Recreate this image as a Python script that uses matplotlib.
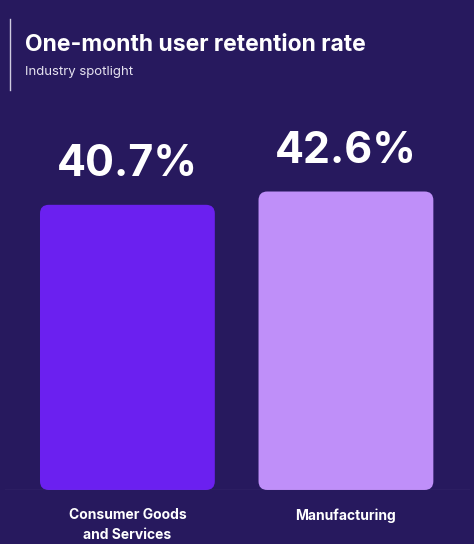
import matplotlib.pyplot as plt
from matplotlib.patches import FancyBboxPatch

plt.rcParams["font.family"] = ["Inter", "DejaVu Sans"]

BG = "#27195e"
categories = ["Consumer Goods\nand Services", "Manufacturing"]
values = [40.7, 42.6]
labels = ["40.7%", "42.6%"]
colors = ["#6b20f0", "#bf8ff9"]

fig = plt.figure(figsize=(4.74, 5.44), dpi=100, facecolor=BG)
ax = fig.add_axes([0, 0.0993, 1, 0.662])
ax.set_facecolor(BG)
ax.set_xlim(-0.583, 1.586)
ax.set_ylim(0, 51.4)
for s in ax.spines.values():
    s.set_visible(False)
ax.set_xticks([])
ax.set_yticks([])

w = 0.8
for i, (v, c, lab) in enumerate(zip(values, colors, labels)):
    p = FancyBboxPatch((i - w / 2, 0), w, v, boxstyle="round,pad=0,rounding_size=0.04",
                       mutation_aspect=51.4 / 2.169 * 474 / 360,
                       fc=c, ec="none")
    ax.add_patch(p)
    ax.text(i, v + 2.8, lab, ha="center", va="bottom", color="white",
            fontsize=31, fontweight="bold")
    ax.text(i, -2.6, categories[i], ha="center", va="top", color="white",
            fontsize=10, fontweight="bold", linespacing=1.5, clip_on=False)

ax.axhline(0, xmin=0.01, xmax=0.99, color="#8a84a8", lw=0.8)

fig.add_artist(plt.Line2D([0.021, 0.021], [0.835, 0.965], color="#cfcbe0", lw=1))
fig.text(0.053, 0.918, "One-month user retention rate", color="white",
         fontsize=16.5, fontweight="bold", va="center")
fig.text(0.053, 0.868, "Industry spotlight", color="#e6e3f0", fontsize=9.5, va="center")

fig.savefig("out.png", dpi=100, facecolor=BG)
